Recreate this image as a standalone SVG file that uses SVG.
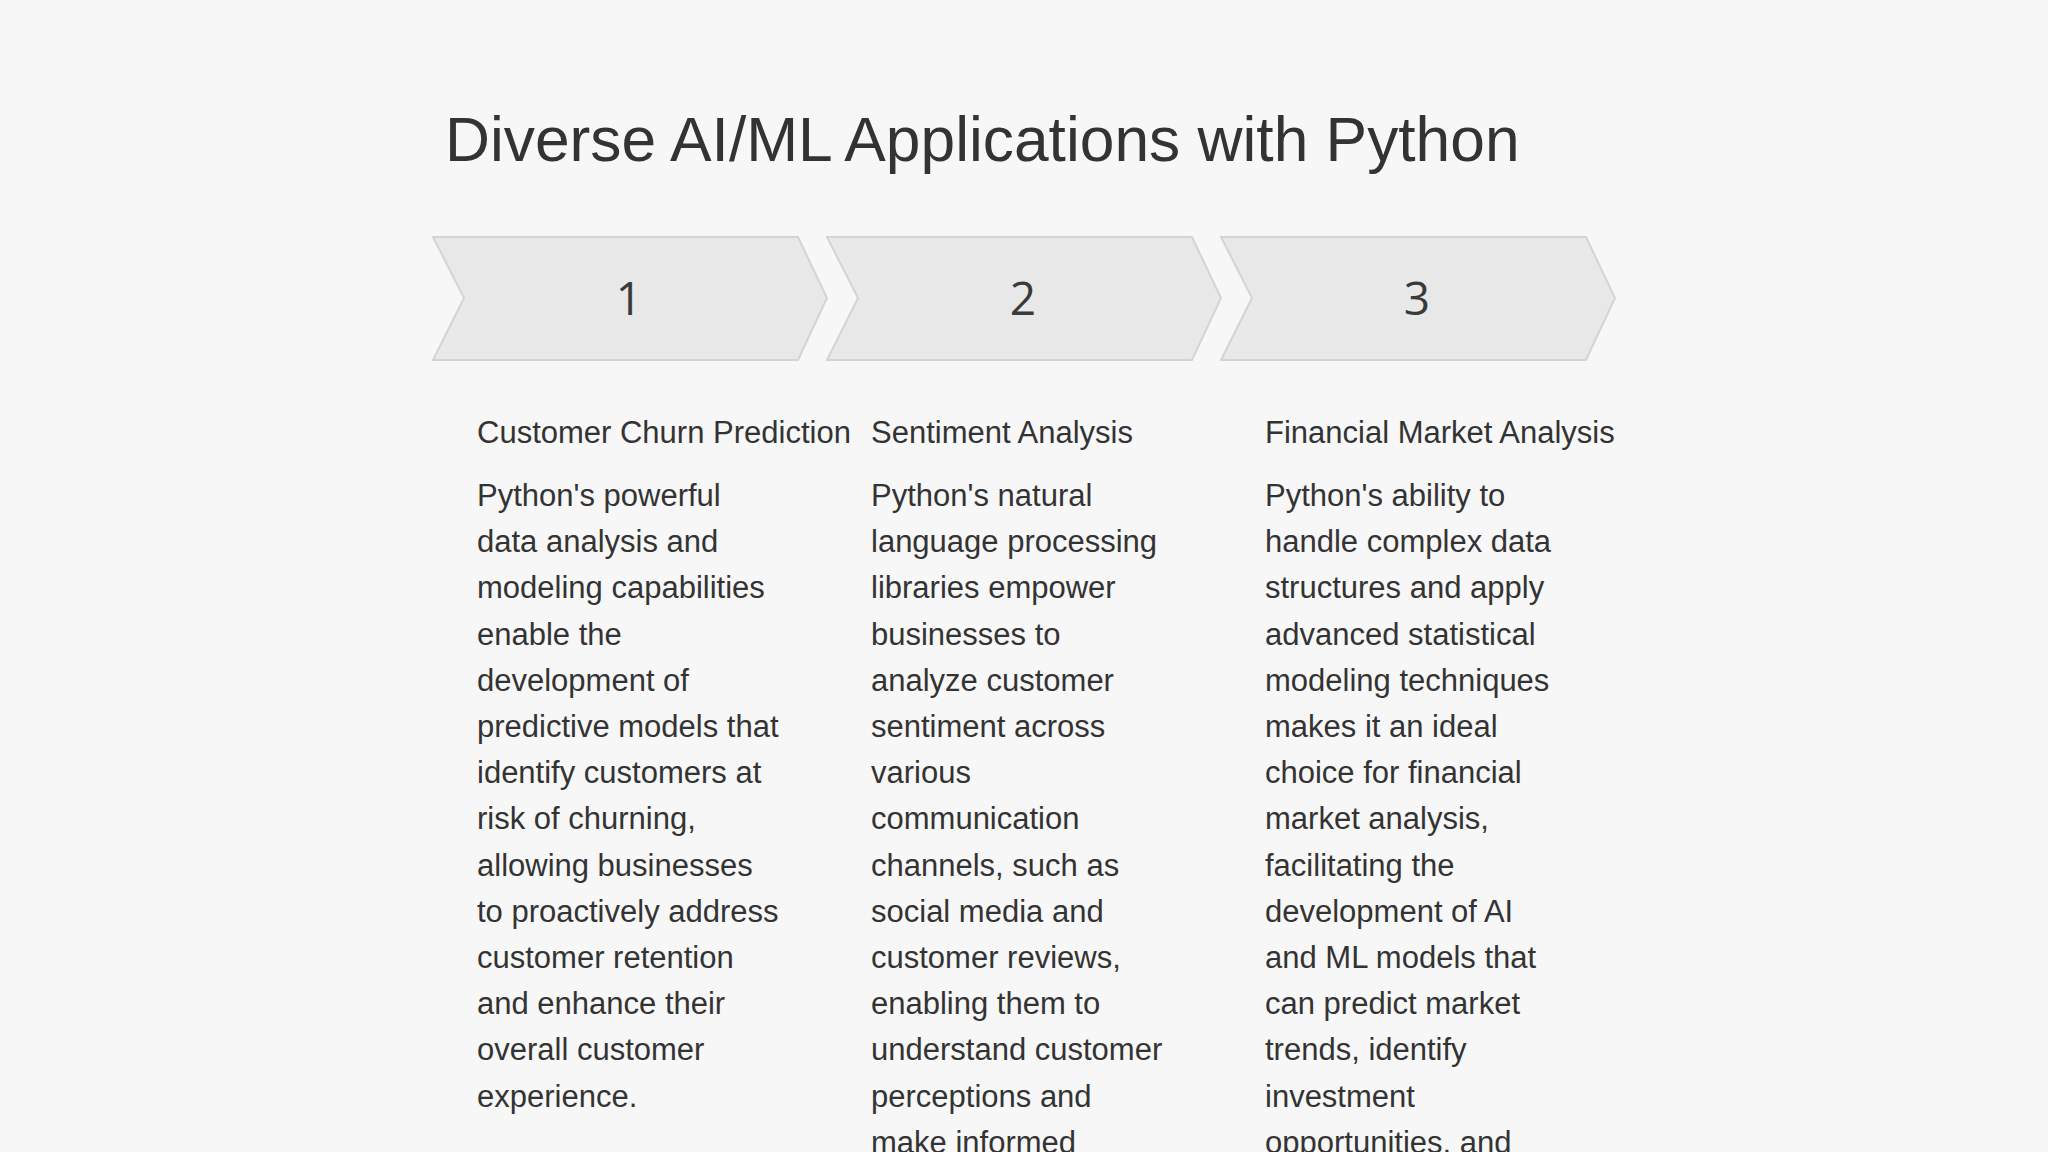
<svg xmlns="http://www.w3.org/2000/svg" width="2048" height="1152" viewBox="0 0 2048 1152">
<style>
.t{font-family:"Liberation Sans",Arial,sans-serif;fill:#333}
.n{font-family:"Open Sans",sans-serif;font-size:46px;fill:#3a3a3a;text-anchor:middle}
.c{fill:#e8e8e8;stroke:#d4d4d4;stroke-width:2}
.h{font-size:31px}
.b{font-size:31px}
</style>
<rect width="2048" height="1152" fill="#f7f7f7"/>
<text class="t" x="445" y="161" font-size="62.3">Diverse AI/ML Applications with Python</text>
<g id="step1"><polygon class="c" points="433,237 798,237 827,298 798,360 433,360 464,298"/><text class="n" x="629" y="315">1</text></g>
<g id="step2"><polygon class="c" points="827,237 1192,237 1221,298 1192,360 827,360 858,298"/><text class="n" x="1023" y="315">2</text></g>
<g id="step3"><polygon class="c" points="1221,237 1586,237 1615,298 1586,360 1221,360 1252,298"/><text class="n" x="1417" y="315">3</text></g>
<g id="col1" class="t">
<text class="h" x="477" y="443">Customer Churn Prediction</text>
<text class="b" x="477" y="506">
<tspan x="477" dy="0">Python's powerful</tspan><tspan x="477" dy="46.2">data analysis and</tspan><tspan x="477" dy="46.2">modeling capabilities</tspan><tspan x="477" dy="46.2">enable the</tspan><tspan x="477" dy="46.2">development of</tspan><tspan x="477" dy="46.2">predictive models that</tspan><tspan x="477" dy="46.2">identify customers at</tspan><tspan x="477" dy="46.2">risk of churning,</tspan><tspan x="477" dy="46.2">allowing businesses</tspan><tspan x="477" dy="46.2">to proactively address</tspan><tspan x="477" dy="46.2">customer retention</tspan><tspan x="477" dy="46.2">and enhance their</tspan><tspan x="477" dy="46.2">overall customer</tspan><tspan x="477" dy="46.2">experience.</tspan></text>
</g>
<g id="col2" class="t">
<text class="h" x="871" y="443">Sentiment Analysis</text>
<text class="b" x="871" y="506">
<tspan x="871" dy="0">Python's natural</tspan><tspan x="871" dy="46.2">language processing</tspan><tspan x="871" dy="46.2">libraries empower</tspan><tspan x="871" dy="46.2">businesses to</tspan><tspan x="871" dy="46.2">analyze customer</tspan><tspan x="871" dy="46.2">sentiment across</tspan><tspan x="871" dy="46.2">various</tspan><tspan x="871" dy="46.2">communication</tspan><tspan x="871" dy="46.2">channels, such as</tspan><tspan x="871" dy="46.2">social media and</tspan><tspan x="871" dy="46.2">customer reviews,</tspan><tspan x="871" dy="46.2">enabling them to</tspan><tspan x="871" dy="46.2">understand customer</tspan><tspan x="871" dy="46.2">perceptions and</tspan><tspan x="871" dy="46.2">make informed</tspan></text>
</g>
<g id="col3" class="t">
<text class="h" x="1265" y="443">Financial Market Analysis</text>
<text class="b" x="1265" y="506">
<tspan x="1265" dy="0">Python's ability to</tspan><tspan x="1265" dy="46.2">handle complex data</tspan><tspan x="1265" dy="46.2">structures and apply</tspan><tspan x="1265" dy="46.2">advanced statistical</tspan><tspan x="1265" dy="46.2">modeling techniques</tspan><tspan x="1265" dy="46.2">makes it an ideal</tspan><tspan x="1265" dy="46.2">choice for financial</tspan><tspan x="1265" dy="46.2">market analysis,</tspan><tspan x="1265" dy="46.2">facilitating the</tspan><tspan x="1265" dy="46.2">development of AI</tspan><tspan x="1265" dy="46.2">and ML models that</tspan><tspan x="1265" dy="46.2">can predict market</tspan><tspan x="1265" dy="46.2">trends, identify</tspan><tspan x="1265" dy="46.2">investment</tspan><tspan x="1265" dy="46.2">opportunities, and</tspan></text>
</g>
<g id="connectors"/>
</svg>
